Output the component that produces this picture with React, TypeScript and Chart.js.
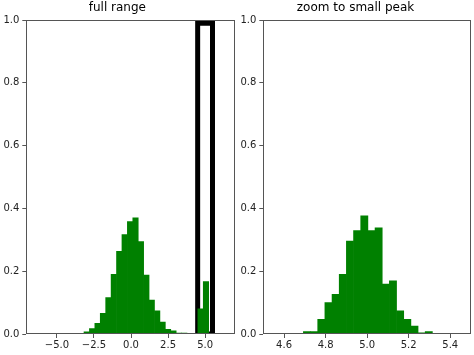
import React, { useEffect, useRef } from 'react';
import { Chart, registerables } from 'chart.js';

Chart.register(...registerables);

// Left panel ("full range") histogram: bin centers and heights
const leftBinCenters = [
  -3.357, -2.991, -2.625, -2.259, -1.893, -1.527, -1.161, -0.795, -0.429, -0.063,
  0.303, 0.669, 1.035, 1.401, 1.767, 2.133, 2.499, 2.865, 3.231, 3.597,
  3.963, 4.329, 4.695, 5.061,
];
const leftHeights = [
  0.002, 0.007, 0.017, 0.034, 0.066, 0.116, 0.190, 0.263, 0.317, 0.358,
  0.370, 0.294, 0.188, 0.108, 0.074, 0.038, 0.015, 0.010, 0.003, 0.003,
  0, 0, 0.080, 0.167,
];

// Right panel ("zoom to small peak") histogram
const rightBinCenters = [
  4.7103, 4.7448, 4.7793, 4.8138, 4.8483, 4.8828, 4.9173, 4.9518, 4.9863,
  5.0208, 5.0553, 5.0898, 5.1243, 5.1588, 5.1933, 5.2278, 5.2623, 5.2968,
];
const rightHeights = [
  0.008, 0.008, 0.047, 0.100, 0.126, 0.190, 0.296, 0.329, 0.376,
  0.329, 0.338, 0.159, 0.169, 0.074, 0.047, 0.025, 0.004, 0.008,
];

const leftXTicks = [-5, -2.5, 0, 2.5, 5];
const rightXTicks = [4.6, 4.8, 5.0, 5.2, 5.4];
const yTicks = [0, 0.2, 0.4, 0.6, 0.8, 1.0];
const leftXRange = [-7.07, 7.0];
const rightXRange = [4.5, 5.5];
const yRange = [0, 1];
const zoomBoxX = [4.5, 5.5];
const zoomBoxY = [0, 0.99];

const leftTitle = 'full range';
const rightTitle = 'zoom to small peak';

const FONT = "'DejaVu Sans', 'Liberation Sans', sans-serif";
const SPINE = '#555';

const fmt = (v: number) => {
  const s = Number(v).toFixed(1);
  return s.startsWith('-') ? '\u2212' + s.slice(1) : s;
};

const framePlugin = {
  id: 'frame',
  afterDatasetsDraw(chart: any) {
    const { ctx, chartArea: a } = chart;
    ctx.save();
    ctx.strokeStyle = SPINE;
    ctx.lineWidth = 1;
    const l = Math.round(a.left) + 0.5;
    const t = Math.round(a.top) + 0.5;
    const r = Math.round(a.right) - 0.5;
    const b = Math.round(a.bottom) - 0.5;
    ctx.strokeRect(l, t, r - l, b - t);
    ctx.restore();
  },
};

function makeConfig(opts: {
  title: string;
  centers: number[];
  heights: number[];
  xRange: number[];
  xTicks: number[];
  yWidth: number;
  padRight: number;
  withBox: boolean;
}) {
  const datasets: any[] = [
    {
      type: 'bar',
      data: opts.centers.map((x, i) => ({ x, y: opts.heights[i] })),
      backgroundColor: '#008000',
      borderWidth: 0,
      barPercentage: 1,
      categoryPercentage: 1,
      order: 1,
    },
  ];
  if (opts.withBox) {
    datasets.push({
      type: 'line',
      data: [
        { x: zoomBoxX[0], y: zoomBoxY[0] },
        { x: zoomBoxX[0], y: zoomBoxY[1] },
        { x: zoomBoxX[1], y: zoomBoxY[1] },
        { x: zoomBoxX[1], y: zoomBoxY[0] },
        { x: zoomBoxX[0], y: zoomBoxY[0] },
      ],
      borderColor: '#000',
      borderWidth: 5,
      borderJoinStyle: 'miter',
      pointRadius: 0,
      pointHoverRadius: 0,
      fill: false,
      tension: 0,
      order: 2,
      clip: 0,
    });
  }
  const gridOpts = {
    display: true,
    drawOnChartArea: false,
    drawTicks: true,
    tickLength: 4,
    tickColor: SPINE,
    color: SPINE,
    offset: false,
  };
  return {
    type: 'bar' as const,
    data: { datasets },
    options: {
      animation: false,
      responsive: false,
      maintainAspectRatio: false,
      events: [],
      layout: { padding: { left: 0, right: opts.padRight, top: 0, bottom: 0 } },
      plugins: {
        legend: { display: false },
        tooltip: { enabled: false },
        title: {
          display: true,
          text: opts.title,
          color: '#000',
          font: { family: FONT, size: 12, weight: 'normal' },
          padding: { top: 1, bottom: 4.6 },
        },
      },
      scales: {
        x: {
          type: 'linear',
          min: opts.xRange[0],
          max: opts.xRange[1],
          offset: false,
          afterBuildTicks: (s: any) => {
            s.ticks = opts.xTicks.map((v) => ({ value: v }));
          },
          afterFit: (s: any) => {
            s.height = 21;
          },
          grid: gridOpts,
          border: { display: false },
          ticks: {
            autoSkip: false,
            maxRotation: 0,
            padding: 1,
            color: '#222',
            font: { family: FONT, size: 10 },
            callback: (v: any) => fmt(v),
          },
        },
        y: {
          type: 'linear',
          min: yRange[0],
          max: yRange[1],
          afterBuildTicks: (s: any) => {
            s.ticks = yTicks.map((v) => ({ value: v }));
          },
          afterFit: (s: any) => {
            s.width = opts.yWidth;
          },
          grid: gridOpts,
          border: { display: false },
          ticks: {
            padding: 3,
            color: '#222',
            font: { family: FONT, size: 10 },
            callback: (v: any) => fmt(v),
          },
        },
      },
    },
    plugins: [framePlugin],
  };
}

export default function App() {
  const leftRef = useRef<HTMLCanvasElement>(null);
  const rightRef = useRef<HTMLCanvasElement>(null);

  useEffect(() => {
    const c1 = new Chart(
      leftRef.current as HTMLCanvasElement,
      makeConfig({
        title: leftTitle,
        centers: leftBinCenters,
        heights: leftHeights,
        xRange: leftXRange,
        xTicks: leftXTicks,
        yWidth: 26.3,
        padRight: 5.3,
        withBox: true,
      }) as any
    );
    const c2 = new Chart(
      rightRef.current as HTMLCanvasElement,
      makeConfig({
        title: rightTitle,
        centers: rightBinCenters,
        heights: rightHeights,
        xRange: rightXRange,
        xTicks: rightXTicks,
        yWidth: 23.3,
        padRight: 3,
        withBox: false,
      }) as any
    );
    return () => {
      c1.destroy();
      c2.destroy();
    };
  }, []);

  return (
    <div style={{ position: 'absolute', left: 0, top: 0, width: 474, height: 355, background: '#fff' }}>
      <canvas ref={leftRef} width={240} height={355} style={{ position: 'absolute', left: 0, top: 0, width: 240, height: 355 }} />
      <canvas ref={rightRef} width={234} height={355} style={{ position: 'absolute', left: 240, top: 0, width: 234, height: 355 }} />
    </div>
  );
}
